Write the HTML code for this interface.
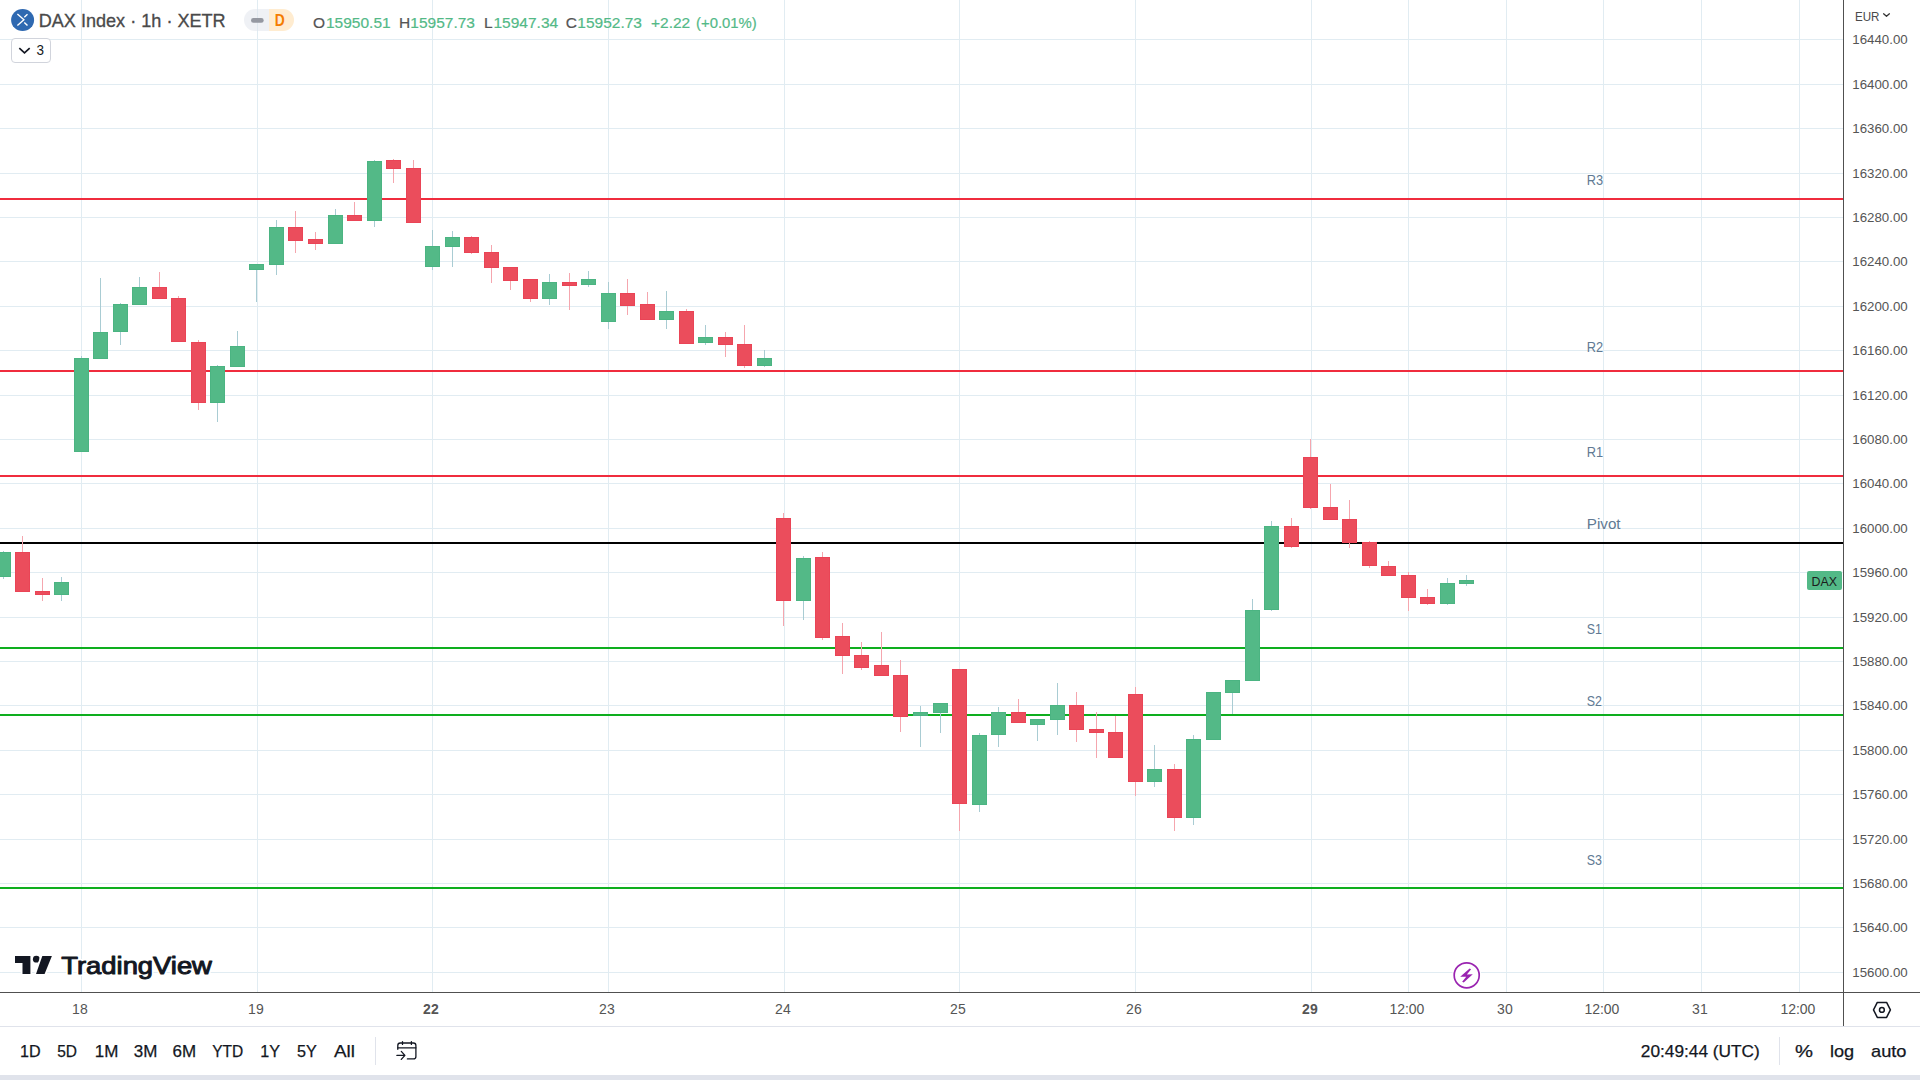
<!DOCTYPE html>
<html><head><meta charset="utf-8"><title>DAX Index</title>
<style>html,body{margin:0;padding:0;background:#fff;overflow:hidden}body{width:1920px;height:1080px;position:relative;font-family:"Liberation Sans",sans-serif}svg{position:absolute;left:0;top:0;display:block}text{font-family:"Liberation Sans",sans-serif}</style></head><body>
<svg width="1920" height="1080" viewBox="0 0 1920 1080">
<rect width="1920" height="1080" fill="#fff"/>
<g shape-rendering="crispEdges" fill="#e1ecf2">
<rect x="81" y="0" width="1" height="992"/>
<rect x="257" y="0" width="1" height="992"/>
<rect x="432" y="0" width="1" height="992"/>
<rect x="608" y="0" width="1" height="992"/>
<rect x="784" y="0" width="1" height="992"/>
<rect x="959" y="0" width="1" height="992"/>
<rect x="1135" y="0" width="1" height="992"/>
<rect x="1311" y="0" width="1" height="992"/>
<rect x="1408" y="0" width="1" height="992"/>
<rect x="1506" y="0" width="1" height="992"/>
<rect x="1603" y="0" width="1" height="992"/>
<rect x="1701" y="0" width="1" height="992"/>
<rect x="1799" y="0" width="1" height="992"/>
<rect x="0" y="39" width="1843" height="1"/>
<rect x="0" y="84" width="1843" height="1"/>
<rect x="0" y="128" width="1843" height="1"/>
<rect x="0" y="173" width="1843" height="1"/>
<rect x="0" y="217" width="1843" height="1"/>
<rect x="0" y="261" width="1843" height="1"/>
<rect x="0" y="306" width="1843" height="1"/>
<rect x="0" y="350" width="1843" height="1"/>
<rect x="0" y="395" width="1843" height="1"/>
<rect x="0" y="439" width="1843" height="1"/>
<rect x="0" y="483" width="1843" height="1"/>
<rect x="0" y="528" width="1843" height="1"/>
<rect x="0" y="572" width="1843" height="1"/>
<rect x="0" y="617" width="1843" height="1"/>
<rect x="0" y="661" width="1843" height="1"/>
<rect x="0" y="705" width="1843" height="1"/>
<rect x="0" y="750" width="1843" height="1"/>
<rect x="0" y="794" width="1843" height="1"/>
<rect x="0" y="839" width="1843" height="1"/>
<rect x="0" y="883" width="1843" height="1"/>
<rect x="0" y="927" width="1843" height="1"/>
<rect x="0" y="972" width="1843" height="1"/>
</g>
<g shape-rendering="crispEdges">
<rect x="0" y="198" width="1843" height="2" fill="#f02c3d"/>
<rect x="0" y="370" width="1843" height="2" fill="#f02c3d"/>
<rect x="0" y="475" width="1843" height="2" fill="#f02c3d"/>
<rect x="0" y="542" width="1843" height="2" fill="#000"/>
<rect x="0" y="647" width="1843" height="2" fill="#0eae1e"/>
<rect x="0" y="714" width="1843" height="2" fill="#0eae1e"/>
<rect x="0" y="887" width="1843" height="2" fill="#0eae1e"/>
</g>
<g shape-rendering="crispEdges">
<rect x="3" y="551" width="1" height="28" fill="#a9ccd3"/>
<rect x="-4" y="552" width="15" height="25" fill="#4bb482"/>
<rect x="-3" y="553" width="13" height="23" fill="#53b987"/>
<rect x="22" y="536" width="1" height="56" fill="#f5a6ae"/>
<rect x="15" y="552" width="15" height="40" fill="#ea4456"/>
<rect x="16" y="553" width="13" height="38" fill="#eb4d5c"/>
<rect x="42" y="578" width="1" height="23" fill="#f5a6ae"/>
<rect x="35" y="591" width="15" height="4" fill="#ea4456"/>
<rect x="36" y="592" width="13" height="2" fill="#eb4d5c"/>
<rect x="61" y="577" width="1" height="24" fill="#a9ccd3"/>
<rect x="54" y="582" width="15" height="13" fill="#4bb482"/>
<rect x="55" y="583" width="13" height="11" fill="#53b987"/>
<rect x="81" y="356" width="1" height="96" fill="#a9ccd3"/>
<rect x="74" y="358" width="15" height="94" fill="#4bb482"/>
<rect x="75" y="359" width="13" height="92" fill="#53b987"/>
<rect x="100" y="278" width="1" height="81" fill="#a9ccd3"/>
<rect x="93" y="332" width="15" height="27" fill="#4bb482"/>
<rect x="94" y="333" width="13" height="25" fill="#53b987"/>
<rect x="120" y="303" width="1" height="42" fill="#a9ccd3"/>
<rect x="113" y="304" width="15" height="28" fill="#4bb482"/>
<rect x="114" y="305" width="13" height="26" fill="#53b987"/>
<rect x="139" y="277" width="1" height="28" fill="#a9ccd3"/>
<rect x="132" y="287" width="15" height="18" fill="#4bb482"/>
<rect x="133" y="288" width="13" height="16" fill="#53b987"/>
<rect x="159" y="272" width="1" height="27" fill="#f5a6ae"/>
<rect x="152" y="287" width="15" height="12" fill="#ea4456"/>
<rect x="153" y="288" width="13" height="10" fill="#eb4d5c"/>
<rect x="178" y="296" width="1" height="46" fill="#f5a6ae"/>
<rect x="171" y="298" width="15" height="44" fill="#ea4456"/>
<rect x="172" y="299" width="13" height="42" fill="#eb4d5c"/>
<rect x="198" y="340" width="1" height="70" fill="#f5a6ae"/>
<rect x="191" y="342" width="15" height="61" fill="#ea4456"/>
<rect x="192" y="343" width="13" height="59" fill="#eb4d5c"/>
<rect x="217" y="365" width="1" height="57" fill="#a9ccd3"/>
<rect x="210" y="366" width="15" height="37" fill="#4bb482"/>
<rect x="211" y="367" width="13" height="35" fill="#53b987"/>
<rect x="237" y="331" width="1" height="36" fill="#a9ccd3"/>
<rect x="230" y="346" width="15" height="21" fill="#4bb482"/>
<rect x="231" y="347" width="13" height="19" fill="#53b987"/>
<rect x="256" y="264" width="1" height="38" fill="#a9ccd3"/>
<rect x="249" y="264" width="15" height="6" fill="#4bb482"/>
<rect x="250" y="265" width="13" height="4" fill="#53b987"/>
<rect x="276" y="220" width="1" height="55" fill="#a9ccd3"/>
<rect x="269" y="227" width="15" height="38" fill="#4bb482"/>
<rect x="270" y="228" width="13" height="36" fill="#53b987"/>
<rect x="295" y="211" width="1" height="42" fill="#f5a6ae"/>
<rect x="288" y="227" width="15" height="14" fill="#ea4456"/>
<rect x="289" y="228" width="13" height="12" fill="#eb4d5c"/>
<rect x="315" y="232" width="1" height="18" fill="#f5a6ae"/>
<rect x="308" y="239" width="15" height="5" fill="#ea4456"/>
<rect x="309" y="240" width="13" height="3" fill="#eb4d5c"/>
<rect x="335" y="209" width="1" height="35" fill="#a9ccd3"/>
<rect x="328" y="215" width="15" height="29" fill="#4bb482"/>
<rect x="329" y="216" width="13" height="27" fill="#53b987"/>
<rect x="354" y="202" width="1" height="19" fill="#f5a6ae"/>
<rect x="347" y="215" width="15" height="6" fill="#ea4456"/>
<rect x="348" y="216" width="13" height="4" fill="#eb4d5c"/>
<rect x="374" y="160" width="1" height="67" fill="#a9ccd3"/>
<rect x="367" y="161" width="15" height="60" fill="#4bb482"/>
<rect x="368" y="162" width="13" height="58" fill="#53b987"/>
<rect x="393" y="159" width="1" height="24" fill="#f5a6ae"/>
<rect x="386" y="160" width="15" height="9" fill="#ea4456"/>
<rect x="387" y="161" width="13" height="7" fill="#eb4d5c"/>
<rect x="413" y="160" width="1" height="63" fill="#f5a6ae"/>
<rect x="406" y="168" width="15" height="55" fill="#ea4456"/>
<rect x="407" y="169" width="13" height="53" fill="#eb4d5c"/>
<rect x="432" y="230" width="1" height="40" fill="#a9ccd3"/>
<rect x="425" y="246" width="15" height="21" fill="#4bb482"/>
<rect x="426" y="247" width="13" height="19" fill="#53b987"/>
<rect x="452" y="231" width="1" height="36" fill="#a9ccd3"/>
<rect x="445" y="237" width="15" height="10" fill="#4bb482"/>
<rect x="446" y="238" width="13" height="8" fill="#53b987"/>
<rect x="471" y="236" width="1" height="18" fill="#f5a6ae"/>
<rect x="464" y="237" width="15" height="16" fill="#ea4456"/>
<rect x="465" y="238" width="13" height="14" fill="#eb4d5c"/>
<rect x="491" y="245" width="1" height="38" fill="#f5a6ae"/>
<rect x="484" y="252" width="15" height="16" fill="#ea4456"/>
<rect x="485" y="253" width="13" height="14" fill="#eb4d5c"/>
<rect x="510" y="267" width="1" height="23" fill="#f5a6ae"/>
<rect x="503" y="267" width="15" height="14" fill="#ea4456"/>
<rect x="504" y="268" width="13" height="12" fill="#eb4d5c"/>
<rect x="530" y="279" width="1" height="23" fill="#f5a6ae"/>
<rect x="523" y="279" width="15" height="20" fill="#ea4456"/>
<rect x="524" y="280" width="13" height="18" fill="#eb4d5c"/>
<rect x="549" y="274" width="1" height="31" fill="#a9ccd3"/>
<rect x="542" y="282" width="15" height="17" fill="#4bb482"/>
<rect x="543" y="283" width="13" height="15" fill="#53b987"/>
<rect x="569" y="273" width="1" height="37" fill="#f5a6ae"/>
<rect x="562" y="282" width="15" height="4" fill="#ea4456"/>
<rect x="563" y="283" width="13" height="2" fill="#eb4d5c"/>
<rect x="588" y="271" width="1" height="16" fill="#a9ccd3"/>
<rect x="581" y="279" width="15" height="6" fill="#4bb482"/>
<rect x="582" y="280" width="13" height="4" fill="#53b987"/>
<rect x="608" y="282" width="1" height="47" fill="#a9ccd3"/>
<rect x="601" y="293" width="15" height="29" fill="#4bb482"/>
<rect x="602" y="294" width="13" height="27" fill="#53b987"/>
<rect x="627" y="279" width="1" height="36" fill="#f5a6ae"/>
<rect x="620" y="293" width="15" height="13" fill="#ea4456"/>
<rect x="621" y="294" width="13" height="11" fill="#eb4d5c"/>
<rect x="647" y="292" width="1" height="28" fill="#f5a6ae"/>
<rect x="640" y="304" width="15" height="16" fill="#ea4456"/>
<rect x="641" y="305" width="13" height="14" fill="#eb4d5c"/>
<rect x="666" y="291" width="1" height="38" fill="#a9ccd3"/>
<rect x="659" y="311" width="15" height="9" fill="#4bb482"/>
<rect x="660" y="312" width="13" height="7" fill="#53b987"/>
<rect x="686" y="309" width="1" height="35" fill="#f5a6ae"/>
<rect x="679" y="311" width="15" height="33" fill="#ea4456"/>
<rect x="680" y="312" width="13" height="31" fill="#eb4d5c"/>
<rect x="705" y="325" width="1" height="20" fill="#a9ccd3"/>
<rect x="698" y="337" width="15" height="6" fill="#4bb482"/>
<rect x="699" y="338" width="13" height="4" fill="#53b987"/>
<rect x="725" y="332" width="1" height="25" fill="#f5a6ae"/>
<rect x="718" y="337" width="15" height="8" fill="#ea4456"/>
<rect x="719" y="338" width="13" height="6" fill="#eb4d5c"/>
<rect x="744" y="325" width="1" height="43" fill="#f5a6ae"/>
<rect x="737" y="344" width="15" height="22" fill="#ea4456"/>
<rect x="738" y="345" width="13" height="20" fill="#eb4d5c"/>
<rect x="764" y="350" width="1" height="17" fill="#a9ccd3"/>
<rect x="757" y="358" width="15" height="8" fill="#4bb482"/>
<rect x="758" y="359" width="13" height="6" fill="#53b987"/>
<rect x="783" y="513" width="1" height="113" fill="#f5a6ae"/>
<rect x="776" y="518" width="15" height="83" fill="#ea4456"/>
<rect x="777" y="519" width="13" height="81" fill="#eb4d5c"/>
<rect x="803" y="556" width="1" height="64" fill="#a9ccd3"/>
<rect x="796" y="558" width="15" height="43" fill="#4bb482"/>
<rect x="797" y="559" width="13" height="41" fill="#53b987"/>
<rect x="822" y="552" width="1" height="88" fill="#f5a6ae"/>
<rect x="815" y="557" width="15" height="81" fill="#ea4456"/>
<rect x="816" y="558" width="13" height="79" fill="#eb4d5c"/>
<rect x="842" y="623" width="1" height="51" fill="#f5a6ae"/>
<rect x="835" y="636" width="15" height="20" fill="#ea4456"/>
<rect x="836" y="637" width="13" height="18" fill="#eb4d5c"/>
<rect x="861" y="642" width="1" height="28" fill="#f5a6ae"/>
<rect x="854" y="655" width="15" height="13" fill="#ea4456"/>
<rect x="855" y="656" width="13" height="11" fill="#eb4d5c"/>
<rect x="881" y="632" width="1" height="44" fill="#f5a6ae"/>
<rect x="874" y="665" width="15" height="11" fill="#ea4456"/>
<rect x="875" y="666" width="13" height="9" fill="#eb4d5c"/>
<rect x="900" y="660" width="1" height="72" fill="#f5a6ae"/>
<rect x="893" y="675" width="15" height="42" fill="#ea4456"/>
<rect x="894" y="676" width="13" height="40" fill="#eb4d5c"/>
<rect x="920" y="706" width="1" height="41" fill="#a9ccd3"/>
<rect x="913" y="712" width="15" height="4" fill="#4bb482"/>
<rect x="914" y="713" width="13" height="2" fill="#53b987"/>
<rect x="940" y="703" width="1" height="30" fill="#a9ccd3"/>
<rect x="933" y="703" width="15" height="10" fill="#4bb482"/>
<rect x="934" y="704" width="13" height="8" fill="#53b987"/>
<rect x="959" y="669" width="1" height="162" fill="#f5a6ae"/>
<rect x="952" y="669" width="15" height="135" fill="#ea4456"/>
<rect x="953" y="670" width="13" height="133" fill="#eb4d5c"/>
<rect x="979" y="733" width="1" height="79" fill="#a9ccd3"/>
<rect x="972" y="735" width="15" height="70" fill="#4bb482"/>
<rect x="973" y="736" width="13" height="68" fill="#53b987"/>
<rect x="998" y="707" width="1" height="40" fill="#a9ccd3"/>
<rect x="991" y="712" width="15" height="23" fill="#4bb482"/>
<rect x="992" y="713" width="13" height="21" fill="#53b987"/>
<rect x="1018" y="699" width="1" height="24" fill="#f5a6ae"/>
<rect x="1011" y="712" width="15" height="11" fill="#ea4456"/>
<rect x="1012" y="713" width="13" height="9" fill="#eb4d5c"/>
<rect x="1037" y="719" width="1" height="22" fill="#a9ccd3"/>
<rect x="1030" y="719" width="15" height="6" fill="#4bb482"/>
<rect x="1031" y="720" width="13" height="4" fill="#53b987"/>
<rect x="1057" y="683" width="1" height="52" fill="#a9ccd3"/>
<rect x="1050" y="705" width="15" height="15" fill="#4bb482"/>
<rect x="1051" y="706" width="13" height="13" fill="#53b987"/>
<rect x="1076" y="692" width="1" height="50" fill="#f5a6ae"/>
<rect x="1069" y="705" width="15" height="25" fill="#ea4456"/>
<rect x="1070" y="706" width="13" height="23" fill="#eb4d5c"/>
<rect x="1096" y="712" width="1" height="46" fill="#f5a6ae"/>
<rect x="1089" y="729" width="15" height="4" fill="#ea4456"/>
<rect x="1090" y="730" width="13" height="2" fill="#eb4d5c"/>
<rect x="1115" y="716" width="1" height="42" fill="#f5a6ae"/>
<rect x="1108" y="732" width="15" height="26" fill="#ea4456"/>
<rect x="1109" y="733" width="13" height="24" fill="#eb4d5c"/>
<rect x="1135" y="687" width="1" height="109" fill="#f5a6ae"/>
<rect x="1128" y="694" width="15" height="88" fill="#ea4456"/>
<rect x="1129" y="695" width="13" height="86" fill="#eb4d5c"/>
<rect x="1154" y="745" width="1" height="42" fill="#a9ccd3"/>
<rect x="1147" y="769" width="15" height="13" fill="#4bb482"/>
<rect x="1148" y="770" width="13" height="11" fill="#53b987"/>
<rect x="1174" y="764" width="1" height="67" fill="#f5a6ae"/>
<rect x="1167" y="769" width="15" height="49" fill="#ea4456"/>
<rect x="1168" y="770" width="13" height="47" fill="#eb4d5c"/>
<rect x="1193" y="735" width="1" height="90" fill="#a9ccd3"/>
<rect x="1186" y="739" width="15" height="79" fill="#4bb482"/>
<rect x="1187" y="740" width="13" height="77" fill="#53b987"/>
<rect x="1213" y="692" width="1" height="48" fill="#a9ccd3"/>
<rect x="1206" y="692" width="15" height="48" fill="#4bb482"/>
<rect x="1207" y="693" width="13" height="46" fill="#53b987"/>
<rect x="1232" y="680" width="1" height="34" fill="#a9ccd3"/>
<rect x="1225" y="680" width="15" height="13" fill="#4bb482"/>
<rect x="1226" y="681" width="13" height="11" fill="#53b987"/>
<rect x="1252" y="599" width="1" height="82" fill="#a9ccd3"/>
<rect x="1245" y="610" width="15" height="71" fill="#4bb482"/>
<rect x="1246" y="611" width="13" height="69" fill="#53b987"/>
<rect x="1271" y="521" width="1" height="90" fill="#a9ccd3"/>
<rect x="1264" y="526" width="15" height="84" fill="#4bb482"/>
<rect x="1265" y="527" width="13" height="82" fill="#53b987"/>
<rect x="1291" y="518" width="1" height="30" fill="#f5a6ae"/>
<rect x="1284" y="526" width="15" height="21" fill="#ea4456"/>
<rect x="1285" y="527" width="13" height="19" fill="#eb4d5c"/>
<rect x="1310" y="439" width="1" height="70" fill="#f5a6ae"/>
<rect x="1303" y="457" width="15" height="51" fill="#ea4456"/>
<rect x="1304" y="458" width="13" height="49" fill="#eb4d5c"/>
<rect x="1330" y="484" width="1" height="36" fill="#f5a6ae"/>
<rect x="1323" y="507" width="15" height="13" fill="#ea4456"/>
<rect x="1324" y="508" width="13" height="11" fill="#eb4d5c"/>
<rect x="1349" y="500" width="1" height="48" fill="#f5a6ae"/>
<rect x="1342" y="519" width="15" height="24" fill="#ea4456"/>
<rect x="1343" y="520" width="13" height="22" fill="#eb4d5c"/>
<rect x="1369" y="541" width="1" height="27" fill="#f5a6ae"/>
<rect x="1362" y="542" width="15" height="24" fill="#ea4456"/>
<rect x="1363" y="543" width="13" height="22" fill="#eb4d5c"/>
<rect x="1388" y="561" width="1" height="15" fill="#f5a6ae"/>
<rect x="1381" y="566" width="15" height="10" fill="#ea4456"/>
<rect x="1382" y="567" width="13" height="8" fill="#eb4d5c"/>
<rect x="1408" y="572" width="1" height="39" fill="#f5a6ae"/>
<rect x="1401" y="575" width="15" height="23" fill="#ea4456"/>
<rect x="1402" y="576" width="13" height="21" fill="#eb4d5c"/>
<rect x="1427" y="589" width="1" height="16" fill="#f5a6ae"/>
<rect x="1420" y="597" width="15" height="7" fill="#ea4456"/>
<rect x="1421" y="598" width="13" height="5" fill="#eb4d5c"/>
<rect x="1447" y="578" width="1" height="27" fill="#a9ccd3"/>
<rect x="1440" y="583" width="15" height="21" fill="#4bb482"/>
<rect x="1441" y="584" width="13" height="19" fill="#53b987"/>
<rect x="1466" y="575" width="1" height="11" fill="#a9ccd3"/>
<rect x="1459" y="580" width="15" height="4" fill="#4bb482"/>
<rect x="1460" y="581" width="13" height="2" fill="#53b987"/>
</g>
<g opacity="0.999">
<text x="1586.8" y="185" font-size="15" fill="#617a93" textLength="16.4" lengthAdjust="spacingAndGlyphs">R3</text>
<text x="1586.8" y="352" font-size="15" fill="#617a93" textLength="16.4" lengthAdjust="spacingAndGlyphs">R2</text>
<text x="1586.8" y="457" font-size="15" fill="#617a93" textLength="16.4" lengthAdjust="spacingAndGlyphs">R1</text>
<text x="1586.8" y="529" font-size="15" fill="#617a93" textLength="33.8" lengthAdjust="spacingAndGlyphs">Pivot</text>
<text x="1586.8" y="634" font-size="15" fill="#617a93" textLength="15.2" lengthAdjust="spacingAndGlyphs">S1</text>
<text x="1586.8" y="706" font-size="15" fill="#617a93" textLength="15.2" lengthAdjust="spacingAndGlyphs">S2</text>
<text x="1586.8" y="865" font-size="15" fill="#617a93" textLength="15.2" lengthAdjust="spacingAndGlyphs">S3</text>
<rect x="1807" y="571" width="35" height="19" rx="2" fill="#53b987"/>
<text x="1811.6" y="585.6" font-size="13" fill="#1c1c1c" textLength="25.5" lengthAdjust="spacingAndGlyphs">DAX</text>
</g>
<g shape-rendering="crispEdges"><rect x="1844" y="0" width="76" height="992" fill="#fff"/><rect x="0" y="993" width="1920" height="87" fill="#fff"/>
<rect x="1843" y="0" width="1" height="1026" fill="#505050"/><rect x="0" y="992" width="1920" height="1" fill="#505050"/>
<rect x="0" y="1026" width="1920" height="1" fill="#e0e3eb"/><rect x="0" y="1075" width="1920" height="5" fill="#e0e3eb"/>
<rect x="375" y="1037" width="1" height="28" fill="#e0e3eb"/><rect x="1779" y="1037" width="1" height="28" fill="#e0e3eb"/></g>
<g opacity="0.999">
<text x="1852.3" y="43.8" font-size="13.5" fill="#555555" textLength="55.4" lengthAdjust="spacingAndGlyphs">16440.00</text>
<text x="1852.3" y="88.8" font-size="13.5" fill="#555555" textLength="55.4" lengthAdjust="spacingAndGlyphs">16400.00</text>
<text x="1852.3" y="132.8" font-size="13.5" fill="#555555" textLength="55.4" lengthAdjust="spacingAndGlyphs">16360.00</text>
<text x="1852.3" y="177.8" font-size="13.5" fill="#555555" textLength="55.4" lengthAdjust="spacingAndGlyphs">16320.00</text>
<text x="1852.3" y="221.8" font-size="13.5" fill="#555555" textLength="55.4" lengthAdjust="spacingAndGlyphs">16280.00</text>
<text x="1852.3" y="265.8" font-size="13.5" fill="#555555" textLength="55.4" lengthAdjust="spacingAndGlyphs">16240.00</text>
<text x="1852.3" y="310.8" font-size="13.5" fill="#555555" textLength="55.4" lengthAdjust="spacingAndGlyphs">16200.00</text>
<text x="1852.3" y="354.8" font-size="13.5" fill="#555555" textLength="55.4" lengthAdjust="spacingAndGlyphs">16160.00</text>
<text x="1852.3" y="399.8" font-size="13.5" fill="#555555" textLength="55.4" lengthAdjust="spacingAndGlyphs">16120.00</text>
<text x="1852.3" y="443.8" font-size="13.5" fill="#555555" textLength="55.4" lengthAdjust="spacingAndGlyphs">16080.00</text>
<text x="1852.3" y="487.8" font-size="13.5" fill="#555555" textLength="55.4" lengthAdjust="spacingAndGlyphs">16040.00</text>
<text x="1852.3" y="532.8" font-size="13.5" fill="#555555" textLength="55.4" lengthAdjust="spacingAndGlyphs">16000.00</text>
<text x="1852.3" y="576.8" font-size="13.5" fill="#555555" textLength="55.4" lengthAdjust="spacingAndGlyphs">15960.00</text>
<text x="1852.3" y="621.8" font-size="13.5" fill="#555555" textLength="55.4" lengthAdjust="spacingAndGlyphs">15920.00</text>
<text x="1852.3" y="665.8" font-size="13.5" fill="#555555" textLength="55.4" lengthAdjust="spacingAndGlyphs">15880.00</text>
<text x="1852.3" y="709.8" font-size="13.5" fill="#555555" textLength="55.4" lengthAdjust="spacingAndGlyphs">15840.00</text>
<text x="1852.3" y="754.8" font-size="13.5" fill="#555555" textLength="55.4" lengthAdjust="spacingAndGlyphs">15800.00</text>
<text x="1852.3" y="798.8" font-size="13.5" fill="#555555" textLength="55.4" lengthAdjust="spacingAndGlyphs">15760.00</text>
<text x="1852.3" y="843.8" font-size="13.5" fill="#555555" textLength="55.4" lengthAdjust="spacingAndGlyphs">15720.00</text>
<text x="1852.3" y="887.8" font-size="13.5" fill="#555555" textLength="55.4" lengthAdjust="spacingAndGlyphs">15680.00</text>
<text x="1852.3" y="931.8" font-size="13.5" fill="#555555" textLength="55.4" lengthAdjust="spacingAndGlyphs">15640.00</text>
<text x="1852.3" y="976.8" font-size="13.5" fill="#555555" textLength="55.4" lengthAdjust="spacingAndGlyphs">15600.00</text>
<text x="79.9" y="1013.9" font-size="14" fill="#555555" text-anchor="middle">18</text>
<text x="255.9" y="1013.9" font-size="14" fill="#555555" text-anchor="middle">19</text>
<text x="430.9" y="1013.9" font-size="14" fill="#555555" text-anchor="middle" font-weight="bold">22</text>
<text x="606.9" y="1013.9" font-size="14" fill="#555555" text-anchor="middle">23</text>
<text x="782.9" y="1013.9" font-size="14" fill="#555555" text-anchor="middle">24</text>
<text x="957.9" y="1013.9" font-size="14" fill="#555555" text-anchor="middle">25</text>
<text x="1133.9" y="1013.9" font-size="14" fill="#555555" text-anchor="middle">26</text>
<text x="1309.9" y="1013.9" font-size="14" fill="#555555" text-anchor="middle" font-weight="bold">29</text>
<text x="1406.9" y="1013.9" font-size="14" fill="#555555" text-anchor="middle">12:00</text>
<text x="1504.9" y="1013.9" font-size="14" fill="#555555" text-anchor="middle">30</text>
<text x="1601.9" y="1013.9" font-size="14" fill="#555555" text-anchor="middle">12:00</text>
<text x="1699.9" y="1013.9" font-size="14" fill="#555555" text-anchor="middle">31</text>
<text x="1797.9" y="1013.9" font-size="14" fill="#555555" text-anchor="middle">12:00</text>
</g>
<text x="1855" y="21" font-size="13" fill="#4a4a4a" textLength="24.5" lengthAdjust="spacingAndGlyphs">EUR</text>
<path d="M1883.6 13.8 L1886.5 16.3 L1889.4 13.8" fill="none" stroke="#333" stroke-width="1.3" stroke-linecap="round" stroke-linejoin="round"/>
<ellipse cx="22.6" cy="20" rx="11.5" ry="11.1" fill="#2f69b1"/>
<path d="M17.4 14.1 L23.9 19.85 L17.4 25.6 M24.3 17.3 L27.5 14.3 M24.3 22.5 L27.5 25.6" fill="none" stroke="#fff" stroke-width="1.4"/>
<text x="38.7" y="27.3" font-size="18.5" fill="#4a4a4a" stroke="#4a4a4a" stroke-width="0.3" textLength="187" lengthAdjust="spacingAndGlyphs">DAX Index · 1h · XETR</text>
<path d="M255 9 H269 V31 H255 A11 11 0 0 1 255 9 Z" fill="#e0e3eb" fill-opacity="0.5"/>
<path d="M269 9 H283 A11 11 0 0 1 283 31 H269 Z" fill="#ffecd0"/>
<rect x="251" y="18" width="12.7" height="4.8" rx="2.4" fill="#9598a1"/>
<text x="274.8" y="26.1" font-size="16.5" font-weight="bold" fill="#f57c00" textLength="10" lengthAdjust="spacingAndGlyphs">D</text>
<text x="313" y="28" font-size="15.5" fill="#555555" stroke="#555555" stroke-width="0.2">O</text>
<text x="326" y="28" font-size="15.5" fill="#53b987" stroke="#53b987" stroke-width="0.2">15950.51</text>
<text x="399" y="28" font-size="15.5" fill="#555555" stroke="#555555" stroke-width="0.2">H</text>
<text x="410.3" y="28" font-size="15.5" fill="#53b987" stroke="#53b987" stroke-width="0.2">15957.73</text>
<text x="484" y="28" font-size="15.5" fill="#555555" stroke="#555555" stroke-width="0.2">L</text>
<text x="493.5" y="28" font-size="15.5" fill="#53b987" stroke="#53b987" stroke-width="0.2">15947.34</text>
<text x="565.8" y="28" font-size="15.5" fill="#555555" stroke="#555555" stroke-width="0.2">C</text>
<text x="577.3" y="28" font-size="15.5" fill="#53b987" stroke="#53b987" stroke-width="0.2">15952.73</text>
<text x="651" y="28" font-size="15.5" fill="#53b987" stroke="#53b987" stroke-width="0.2">+2.22</text>
<text x="696" y="28" font-size="15.5" fill="#53b987" stroke="#53b987" stroke-width="0.2" textLength="60.8" lengthAdjust="spacingAndGlyphs">(+0.01%)</text>
<rect x="11.5" y="38.5" width="39" height="24" rx="3.5" fill="#fff" stroke="#d1d4dc" stroke-width="1"/>
<path d="M19.3 48.2 L24.5 52.9 L29.7 48.2" fill="none" stroke="#131722" stroke-width="1.7"/>
<text x="36.4" y="54.8" font-size="15" fill="#131722" textLength="7.5" lengthAdjust="spacingAndGlyphs">3</text>
<g fill="#131722" stroke="#fff" stroke-width="3.5" paint-order="stroke"><path d="M15 956 H30.4 V974 H22.5 V963.1 H15 Z"/><circle cx="36.3" cy="959.2" r="3.4"/><path d="M42.3 956 H51.9 L44.6 974 H36 Z"/>
</g>
<text x="61.3" y="973.6" font-size="24.4" fill="#fff" stroke="#fff" stroke-width="4" stroke-linejoin="round" textLength="150.6" lengthAdjust="spacingAndGlyphs">TradingView</text>
<text x="61.3" y="973.6" font-size="24.4" fill="#131722" stroke="#131722" stroke-width="1" stroke-linejoin="round" textLength="150.6" lengthAdjust="spacingAndGlyphs">TradingView</text>
<circle cx="1466.7" cy="975.3" r="14.5" fill="#fff"/>
<circle cx="1466.7" cy="975.3" r="12.5" fill="none" stroke="#9a24b0" stroke-width="1.7"/>
<path d="M1469.63 968.52 L1471.11 969.37 L1466.85 974.56 L1472.78 974.19 L1463.7 982.59 L1462.15 981.74 L1466.22 976.78 L1460.19 976.67 Z" fill="#9a24b0"/>
<text x="20" y="1056.8" font-size="17" fill="#131722" stroke="#131722" stroke-width="0.25" textLength="20.6" lengthAdjust="spacingAndGlyphs">1D</text>
<text x="57.2" y="1056.8" font-size="17" fill="#131722" stroke="#131722" stroke-width="0.25" textLength="19.8" lengthAdjust="spacingAndGlyphs">5D</text>
<text x="94.8" y="1056.8" font-size="17" fill="#131722" stroke="#131722" stroke-width="0.25" textLength="23.6" lengthAdjust="spacingAndGlyphs">1M</text>
<text x="133.7" y="1056.8" font-size="17" fill="#131722" stroke="#131722" stroke-width="0.25" textLength="23.6" lengthAdjust="spacingAndGlyphs">3M</text>
<text x="172.6" y="1056.8" font-size="17" fill="#131722" stroke="#131722" stroke-width="0.25" textLength="23.6" lengthAdjust="spacingAndGlyphs">6M</text>
<text x="212.2" y="1056.8" font-size="17" fill="#131722" stroke="#131722" stroke-width="0.25" textLength="31" lengthAdjust="spacingAndGlyphs">YTD</text>
<text x="260.3" y="1056.8" font-size="17" fill="#131722" stroke="#131722" stroke-width="0.25" textLength="19.8" lengthAdjust="spacingAndGlyphs">1Y</text>
<text x="297" y="1056.8" font-size="17" fill="#131722" stroke="#131722" stroke-width="0.25" textLength="19.8" lengthAdjust="spacingAndGlyphs">5Y</text>
<text x="334" y="1056.8" font-size="17" fill="#131722" stroke="#131722" stroke-width="0.25" textLength="21" lengthAdjust="spacingAndGlyphs">All</text>
<text x="1640.8" y="1056.8" font-size="17" fill="#131722" stroke="#131722" stroke-width="0.25" textLength="119" lengthAdjust="spacingAndGlyphs">20:49:44 (UTC)</text>
<text x="1795" y="1056.8" font-size="17" fill="#131722" stroke="#131722" stroke-width="0.25" textLength="18" lengthAdjust="spacingAndGlyphs">%</text>
<text x="1830" y="1056.8" font-size="17" fill="#131722" stroke="#131722" stroke-width="0.25" textLength="24.2" lengthAdjust="spacingAndGlyphs">log</text>
<text x="1871" y="1056.8" font-size="17" fill="#131722" stroke="#131722" stroke-width="0.25" textLength="35.5" lengthAdjust="spacingAndGlyphs">auto</text>
<g fill="none" stroke="#131722" stroke-width="1.3" stroke-linecap="round" stroke-linejoin="round"><path d="M397.8 1049.3 V1045.5 A2.5 2.5 0 0 1 400.3 1043 H413.4 A2.5 2.5 0 0 1 415.9 1045.5 V1056.4 A2.5 2.5 0 0 1 413.4 1058.9 H407.4"/><path d="M397.8 1047.8 H415.9"/><path d="M402.5 1041.6 V1044.4 M411.4 1041.6 V1044.4"/><path d="M396.9 1055.4 H404.6 M401.3 1051.4 L404.9 1055.4 L401.3 1059.4"/></g>
<g fill="none" stroke="#131722" stroke-width="1.5" stroke-linejoin="round"><path d="M1873.5 1009.9 L1877.3 1002.4 H1886.6 L1890.4 1009.9 L1886.6 1017.4 H1877.3 Z"/><circle cx="1881.9" cy="1009.9" r="2.4"/></g>
</svg></body></html>
